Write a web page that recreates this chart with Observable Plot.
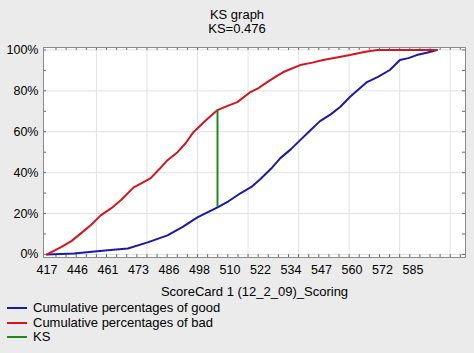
<!DOCTYPE html>
<html><head><meta charset="utf-8">
<script src="https://cdn.jsdelivr.net/npm/d3@7"></script>
<script src="https://cdn.jsdelivr.net/npm/@observablehq/plot@0.6"></script>
<style>
html,body{margin:0;padding:0;background:#ebebeb;}
#wrap{width:474px;height:353px;background:#ebebeb;font-family:"Liberation Sans",Arial,sans-serif;color:#000;overflow:hidden;position:relative;}
#title{padding-top:8px;text-align:center;font-size:13px;line-height:14px;}
#legend{position:absolute;left:7px;top:301px;font-size:13px;line-height:14.5px;}
.row{display:flex;align-items:center;}
.sw{width:20px;height:2px;margin-right:6px;}
svg{display:block;}
</style></head>
<body><div id="wrap">
<div id="title"><div>KS graph</div><div>KS=0.476</div></div>
<div id="chart"></div>
<div id="legend"></div>
</div>
<script>
const xLabels = ["417","446","461","473","486","498","510","522","534","547","560","572","585"];
const xTitle = "ScoreCard 1 (12_2_09)_Scoring";
const seriesNames = ["Cumulative percentages of good","Cumulative percentages of bad","KS"];
const seriesColors = ["#1a1aa6","#d4141e","#1e8a1e"];
// x = position along score scale (tick index units)
const goodX = [0,0.88,1.99,2.65,3.30,3.95,4.45,4.93,5.59,5.95,6.34,6.70,6.99,7.35,7.65,8.00,8.30,8.62,8.95,9.30,9.61,9.93,10.20,10.49,10.85,11.24,11.57,11.85,12.12,12.45,12.78];
const goodY = [0,0.5,2.0,2.9,5.9,9.3,13.5,18.1,23.0,26.0,29.9,33.0,36.8,42.0,47.1,51.5,55.9,60.5,65.2,68.5,72.1,77.0,80.5,84.3,86.8,90.2,95.1,96.0,97.5,98.6,100];
const badX = [0,0.46,0.80,1.11,1.45,1.76,2.10,2.42,2.84,3.12,3.40,3.70,3.95,4.28,4.55,4.80,5.20,5.59,5.90,6.24,6.67,6.95,7.22,7.50,7.75,8.30,8.70,9.05,9.50,9.93,10.40,10.82,12.78];
const badY = [0,3.6,6.5,10.3,14.5,19.1,22.5,26.5,32.8,35.0,37.3,42.0,46.1,50.0,54.5,59.8,65.5,70.6,72.5,74.5,79.4,81.5,84.3,87.0,89.2,92.6,93.8,95.1,96.3,97.5,99.0,100,100];
const ksX = 5.59, ksLow = 23.0, ksHigh = 70.6;
const yTicks = [0,20,40,60,80,100];

const good = goodX.map((x,i)=>({x, y:goodY[i]}));
const bad = badX.map((x,i)=>({x, y:badY[i]}));
const gridStep = 1.657, gridStart = 1.62;
const xGrid = d3.range(gridStart, 13.7, gridStep);
const xMinor = d3.range(gridStart - 4*gridStep/5, 13.7, gridStep/5).filter(v=>v>-0.05);
const yMinor = d3.range(0, 101, 10);
const xd = [-0.115, 13.72], yd = [-1.5, 101.2];

const plot = Plot.plot({
  width: 474, height: 268,
  marginLeft: 43, marginRight: 9, marginTop: 11, marginBottom: 47,
  style: {fontFamily: '"Liberation Sans", Arial, sans-serif', fontSize: "12.5px", background: "transparent", color: "#000"},
  x: {type: "linear", domain: xd, ticks: d3.range(xLabels.length), tickFormat: i => xLabels[i], tickSize: 0, tickPadding: 8, label: null},
  y: {domain: yd, ticks: yTicks, tickFormat: d => d + "%", tickSize: 0, tickPadding: 5, label: null},
  marks: [
    Plot.rect([0], {x1: xd[0], x2: xd[1], y1: yd[0], y2: yd[1], fill: "white"}),
    Plot.ruleY(yTicks, {stroke: "#e2e2e2", strokeWidth: 1}),
    Plot.ruleX(xGrid, {stroke: "#e2e2e2", strokeWidth: 1}),
    Plot.ruleX(xMinor, {y1: yd[1], y2: yd[1]-1.4, stroke: "#666"}),
    Plot.ruleX(xMinor, {y1: yd[0], y2: yd[0]+1.4, stroke: "#666"}),
    Plot.ruleY(yMinor, {x1: xd[0], x2: xd[0]+0.1, stroke: "#666"}),
    Plot.ruleY(yMinor, {x1: xd[1], x2: xd[1]-0.1, stroke: "#666"}),
    Plot.line(good, {x: "x", y: "y", stroke: seriesColors[0], strokeWidth: 2}),
    Plot.line(bad, {x: "x", y: "y", stroke: seriesColors[1], strokeWidth: 2}),
    Plot.ruleX([ksX], {y1: ksLow, y2: ksHigh, stroke: seriesColors[2], strokeWidth: 2}),
    Plot.frame({stroke: "#8a8a8a"}),
    Plot.text([xTitle], {frameAnchor: "bottom", dy: 38, fontSize: 13})
  ]
});
document.getElementById("chart").appendChild(plot);

const lg = document.getElementById("legend");
seriesNames.forEach((n,i)=>{
  const r = document.createElement("div"); r.className = "row";
  const s = document.createElement("div"); s.className = "sw"; s.style.background = seriesColors[i];
  const t = document.createElement("span"); t.textContent = n;
  r.appendChild(s); r.appendChild(t); lg.appendChild(r);
});
</script>
</body></html>
